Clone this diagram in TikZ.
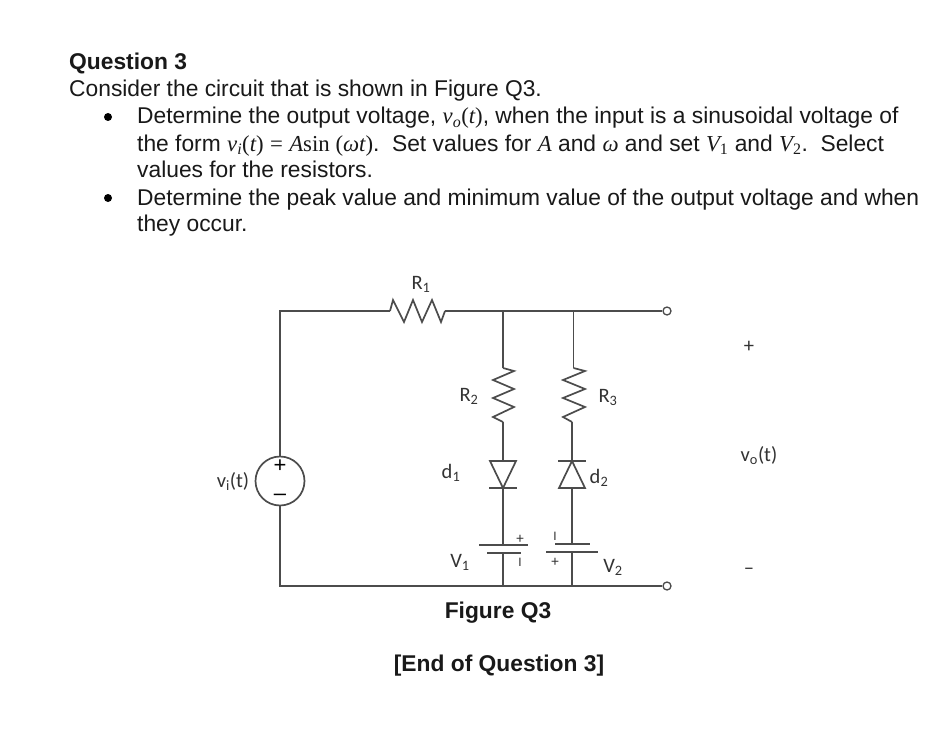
\documentclass[tikz,border=0pt]{standalone}
\usepackage{fontspec}
\setmainfont{Liberation Sans}
\newfontfamily\circfont{Carlito}
\newfontfamily\eqfont{Liberation Serif}
\newcommand{\eqv}[1]{{\eqfont\itshape #1}}
\newcommand{\eqr}[1]{{\eqfont #1}}

\begin{document}
\begin{tikzpicture}[x=1pt,y=-1pt,
    line/.style={
% The text:
anchor=base west,
inner sep=0pt,
font=\fontsize{22.8}{26}\selectfont,
text=black!90
},
    dot/.style={
% The shape:
circle,
% The size:
minimum size=8pt,
inner sep=0pt,
fill=black
},
    lbl/.style={
% The text:
anchor=base,
inner sep=0pt,
font=\fontsize{20.5}{24}\selectfont\circfont,
text=black!80
},
    wire/.style={
% The border:
line width=1.7pt, draw=black!70
},
    term/.style={
% The shape:
circle,
% The size:
minimum size=8pt,
inner sep=0pt,
% The border:
line width=1.3pt, draw=black!70, fill=white
},
    source/.style={
% The shape:
circle,
% The size:
minimum size=49pt,
inner sep=0pt,
% The border:
line width=1.7pt, draw=black!70, fill=white
},
]
  \useasboundingbox (0,0) rectangle (939,733);
  \fill[white] (0,0) rectangle (939,733);

  % text above the circuit
  \node[line,font=\fontsize{22.8}{26}\selectfont\bfseries] (title) at (69,70) {Question 3};
  \node[line] (intro) at (69,97) {Consider the circuit that is shown in Figure Q3.};
  \node[dot] (bulleta) at (108,117) {};
  \node[line] (la) at (137,124) {Determine the output voltage, \eqv{v}\textsubscript{\eqv{o}}\eqr{(}\eqv{t}\eqr{)}, when the input is a sinusoidal voltage of};
  \node[line] (lb) at (137,151) {the form \eqv{v}\textsubscript{\eqv{i}}\eqr{(}\eqv{t}\eqr{)} \eqr{=} \eqv{A}\eqr{sin (}\eqv{ωt}\eqr{)}.\ \ Set values for \eqv{A} and \eqv{ω} and set \eqv{V}\textsubscript{\eqr{1}} and \eqv{V}\textsubscript{\eqr{2}}.\ \ Select};
  \node[line] (lc) at (137,177) {values for the resistors.};
  \node[dot] (bulletb) at (108,198) {};
  \node[line] (ld) at (137,205) {Determine the peak value and minimum value of the output voltage and when};
  \node[line] (le) at (137,231) {they occur.};

  % corners and joints
  \coordinate (tl) at (280,311);
  \coordinate (bl) at (280,586);
  \coordinate (ra) at (390,311);
  \coordinate (rb) at (445,311);
  \coordinate (ja) at (503,311);
  \coordinate (jb) at (573.5,311);
  \coordinate (ka) at (503,586);
  \coordinate (kb) at (572,586);

  \node[term] (outp) at (667,311) {};
  \node[term] (outm) at (667,586) {};
  \node[source] (vi) at (280,481) {};
  \node[inner sep=0pt,font=\fontsize{22}{22}\selectfont] (vip) at (280,466) {+};
  \node[inner sep=0pt,font=\fontsize{22}{22}\selectfont] (vim) at (280,497) {–};

  \draw[wire] (vi) -- (tl) -- (ra);
  \draw[wire] (ra) -- (393,300) -- (404,322) -- (413,300) -- (422,322) -- (432,300) -- (441,322) -- (rb);
  \draw[wire] (rb) -- (ja) -- (jb) -- (outp);
  \draw[wire] (vi) -- (bl) -- (ka) -- (kb) -- (outm);

  % left branch
  \coordinate (raa) at (503,368);
  \coordinate (rab) at (503,422);
  \coordinate (daa) at (503,461);
  \coordinate (dab) at (503,488);
  \coordinate (baa) at (503,545);
  \coordinate (bab) at (503,553);
  \draw[wire] (ja) -- (raa);
  \draw[wire] (raa) -- (514,371) -- (493,380) -- (514,389) -- (493,398) -- (514,407) -- (493,417) -- (rab);
  \draw[wire] (rab) -- (daa);
  \draw[wire] (490,461) -- (516,461) -- (dab) -- cycle;
  \draw[wire] (489,488) -- (517,488);
  \draw[wire] (dab) -- (baa);
  \draw[wire] (479,545) -- (528,545);
  \draw[wire] (487,553) -- (521,553);
  \draw[wire] (bab) -- (ka);

  % right branch
  \coordinate (rca) at (573.5,368);
  \coordinate (rcb) at (572,422);
  \coordinate (dba) at (572,461);
  \coordinate (dbb) at (572,488);
  \coordinate (bba) at (572,544);
  \coordinate (bbb) at (572,552);
  \draw[wire] (jb) -- (rca);
  \draw[wire] (rca) -- (585,371) -- (563,380) -- (585,389) -- (563,398) -- (585,407) -- (563,417) -- (rcb);
  \draw[wire] (rcb) -- (dba);
  \draw[wire] (558,461) -- (586,461);
  \draw[wire] (dba) -- (559,488) -- (585,488) -- cycle;
  \draw[wire] (dbb) -- (bba);
  \draw[wire] (555,544) -- (590,544);
  \draw[wire] (546,552) -- (598,552);
  \draw[wire] (bbb) -- (kb);

  % labels
  \node[lbl] (rone) at (421,289) {R\textsubscript{1}};
  \node[lbl] (rtwo) at (469,401) {R\textsubscript{2}};
  \node[lbl] (rthree) at (608,402) {R\textsubscript{3}};
  \node[lbl] (done) at (451,478) {d\textsubscript{1}};
  \node[lbl] (dtwo) at (599,483) {d\textsubscript{2}};
  \node[lbl] (vone) at (460,567) {V\textsubscript{1}};
  \node[lbl] (vtwo) at (613,572) {V\textsubscript{2}};
  \node[lbl] (vin) at (233,487) {v\textsubscript{i}(t)};
  \node[lbl] (vout) at (759,461) {v\textsubscript{o}(t)};
  \node[lbl,font=\fontsize{15}{15}\selectfont\circfont] (bap) at (520,543) {+};
  \node[lbl,font=\fontsize{13}{13}\selectfont\circfont] (bam) at (520,566) {I};
  \node[lbl,font=\fontsize{13}{13}\selectfont\circfont] (bbm) at (555,540) {I};
  \node[lbl,font=\fontsize{15}{15}\selectfont\circfont] (bbp) at (555,566) {+};
  \node[lbl] (outplus) at (749,352) {+};
  \node[lbl] (outminus) at (749,574) {–};

  \node[line,anchor=base,font=\fontsize{22.8}{26}\selectfont\bfseries] (fig) at (498,618) {Figure Q3};
  \node[line,anchor=base,font=\fontsize{22.8}{26}\selectfont\bfseries] (endq) at (499,671) {[End of Question 3]};
\end{tikzpicture}
\end{document}
